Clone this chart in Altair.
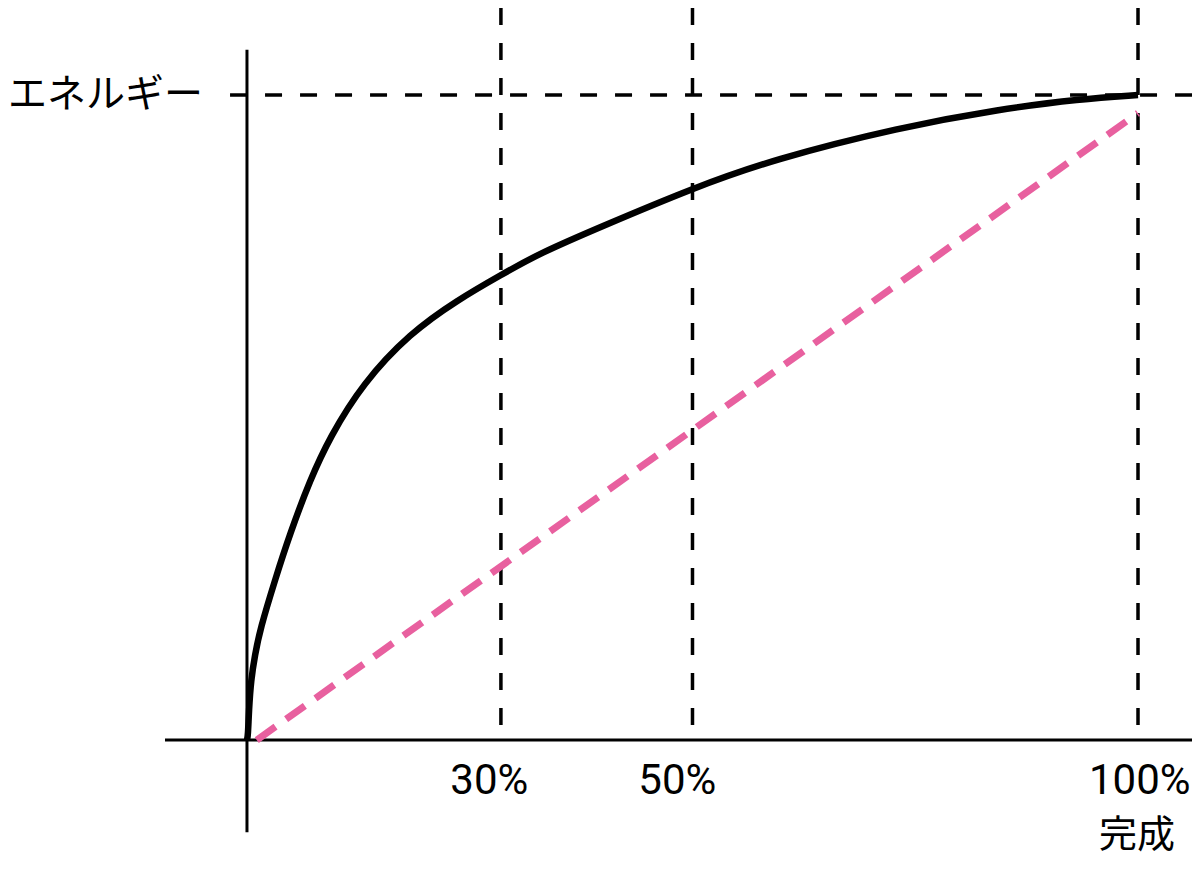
import altair as alt
import pandas as pd

# Energy curve (completion %, energy %)
curve_x = [0.0, 0.11, 0.22, 0.45, 0.9, 1.46, 3.14, 4.83, 7.07, 9.32, 13.0, 18.3, 23.6, 28.5, 32.9,
           39.6, 50.1, 59.0, 73.3, 84.5, 93.5, 100]
curve_y = [0.0, 0.6, 4.6, 9.3, 13.2, 17.1, 24.8, 32.0, 40.3, 47.0, 55.3, 63.1, 68.2, 72.1, 75.5,
           79.5, 85.6, 90.0, 95.0, 97.8, 99.4, 100]

# Linear reference (pink dashed)
diag_x = [1.1, 100]
diag_y = [0, 97.2]

# Guides
guide_x = [28.5, 50, 100]
energy_level = 100

# Labels
tick_labels = ["30%", "50%", "100%"]
tick_label_x = [27.2, 48.3, 100.2]
tick_label_y = -8.37
x_title = "完成"
x_title_pos = (99.9, -14.9)
y_title = "エネルギー"
y_title_pos = (-4.94, 100)

X_DOMAIN = [-26.82, 106.06]
Y_DOMAIN = [-18.29, 113.49]

xs = alt.Scale(domain=X_DOMAIN, nice=False, zero=False)
ys = alt.Scale(domain=Y_DOMAIN, nice=False, zero=False)


def X(f="x"):
    return alt.X(f"{f}:Q", scale=xs, axis=None)


def Y(f="y"):
    return alt.Y(f"{f}:Q", scale=ys, axis=None)


DASH = [17, 18]

# axis lines
xaxis_df = pd.DataFrame({"x": [-9.2], "x2": [X_DOMAIN[1]], "y": [0]})
yaxis_df = pd.DataFrame({"x": [0], "y": [107.0], "y2": [-14.3]})
xaxis = alt.Chart(xaxis_df).mark_rule(color="black", strokeWidth=3).encode(x=X(), x2="x2:Q", y=Y())
yaxis = alt.Chart(yaxis_df).mark_rule(color="black", strokeWidth=3).encode(x=X(), y=Y(), y2="y2:Q")

vguide_df = pd.DataFrame({"x": guide_x, "y": [Y_DOMAIN[1]] * len(guide_x), "y2": [0] * len(guide_x)})
vguides = alt.Chart(vguide_df).mark_rule(color="black", strokeWidth=3.5, strokeDash=DASH).encode(
    x=X(), y=Y(), y2="y2:Q")

hguide_df = pd.DataFrame({"x": [-1.9], "x2": [X_DOMAIN[1]], "y": [energy_level]})
hguide = alt.Chart(hguide_df).mark_rule(color="black", strokeWidth=3.5, strokeDash=DASH).encode(
    x=X(), x2="x2:Q", y=Y())

diag_df = pd.DataFrame({"x": diag_x, "y": diag_y})
diag = alt.Chart(diag_df).mark_line(color="#E8609F", strokeWidth=7, strokeDash=[23, 13]).encode(
    x=X(), y=Y())

curve_df = pd.DataFrame({"x": curve_x, "y": curve_y})
curve = alt.Chart(curve_df).mark_line(color="black", strokeWidth=6.5, interpolate="basis").encode(
    x=X(), y=Y())

ticks_df = pd.DataFrame({"x": tick_label_x, "y": [tick_label_y] * 3, "t": tick_labels})
ticks = alt.Chart(ticks_df).mark_text(font="Roboto", fontSize=42, align="center",
                                       baseline="alphabetic", color="black").encode(x=X(), y=Y(), text="t:N")

xt_df = pd.DataFrame({"x": [x_title_pos[0]], "y": [x_title_pos[1]], "t": [x_title]})
xt = alt.Chart(xt_df).mark_text(font="Noto Sans CJK JP", fontSize=38, align="center",
                                 baseline="middle", color="black").encode(x=X(), y=Y(), text="t:N")

yt_df = pd.DataFrame({"x": [y_title_pos[0]], "y": [y_title_pos[1]], "t": [y_title]})
yt = alt.Chart(yt_df).mark_text(font="Noto Sans CJK JP", fontSize=39, align="right",
                                 baseline="middle", color="black").encode(x=X(), y=Y(), text="t:N")

chart = alt.layer(vguides, hguide, xaxis, yaxis, diag, curve, ticks, xt, yt).properties(
    width=1184, height=850, padding=0, autosize=alt.AutoSizeParams(type="none")
).configure_view(stroke=None)

chart.save("out.html", embed_options={"renderer": "svg", "actions": False})
